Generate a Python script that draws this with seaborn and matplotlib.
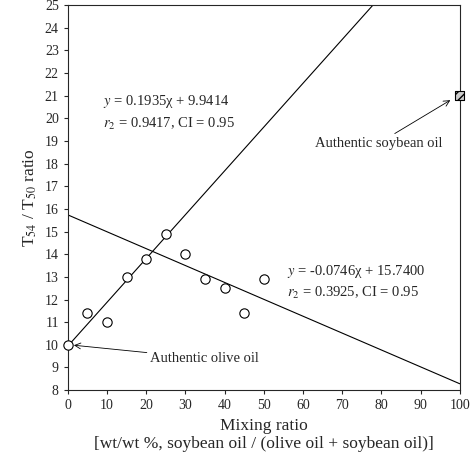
import matplotlib
matplotlib.use("Agg")
import matplotlib.pyplot as plt
import seaborn as sns
import numpy as np
import pandas as pd

mix = [0, 5, 10, 15, 20, 25, 30, 35, 40, 45, 50]
ratio = [10.0, 11.4, 11.0, 13.0, 13.8, 14.9, 14.0, 12.9, 12.5, 11.4, 12.9]
soy_x = [100]
soy_y = [21.0]
fit1 = (0.1935, 9.9414)
fit2 = (-0.0746, 15.7400)

sns.set_style("ticks")
plt.rcParams['font.family'] = ['Liberation Serif', 'DejaVu Serif']
plt.rcParams['mathtext.fontset'] = 'stix'
fig = plt.figure(figsize=(4.74, 4.74), dpi=100)
ax = fig.add_axes([0.143, 0.177, 0.827, 0.812])

df = pd.DataFrame({"x": mix, "y": ratio})
sns.scatterplot(data=df, x="x", y="y", ax=ax, s=45, facecolor="white", edgecolor="black",
                linewidth=0.8, zorder=3, clip_on=False)
ax.scatter(soy_x, soy_y, marker="s", s=45, facecolor="#cccccc", edgecolor="black", linewidth=0.8,
           hatch="////", zorder=3, clip_on=False)

xs = np.linspace(0, 100, 200)
ax.plot(xs, fit1[0]*xs + fit1[1], color="black", lw=0.8)
ax.plot(xs, fit2[0]*xs + fit2[1], color="black", lw=0.8)

ax.set_xlim(0, 100)
ax.set_ylim(8, 25)
ax.set_xticks(range(0, 101, 10))
ax.set_yticks(range(8, 26))
ax.tick_params(labelsize=10, direction="out", length=3)
for s in ax.spines.values():
    s.set_linewidth(0.8)
ax.set_xlabel("Mixing ratio\n[wt/wt %, soybean oil / (olive oil + soybean oil)]", fontsize=12.5)
ax.set_ylabel(r"T$_{54}$ / T$_{50}$ ratio", fontsize=12.5)

ax.text(9, 20.6, r"$y$ = 0.1935χ + 9.9414", fontsize=10.5)
ax.text(9, 19.6, r"$r_2$ = 0.9417, CI = 0.95", fontsize=10.5)
ax.text(56, 13.1, r"$y$ = -0.0746χ + 15.7400", fontsize=10.5)
ax.text(56, 12.1, r"$r_2$ = 0.3925, CI = 0.95", fontsize=10.5)
ax.annotate("Authentic soybean oil", xy=(98.5, 20.9), xytext=(63, 18.9), fontsize=10.5,
            arrowprops=dict(arrowstyle="->", color="black", lw=0.6, shrinkA=0, shrinkB=3),
            ha="left", va="center")
ax.annotate("Authentic olive oil", xy=(0.5, 10.0), xytext=(21, 9.4), fontsize=10.5,
            arrowprops=dict(arrowstyle="->", color="black", lw=0.6, shrinkA=0, shrinkB=3),
            ha="left", va="center")
fig.savefig("out.png", dpi=100)
